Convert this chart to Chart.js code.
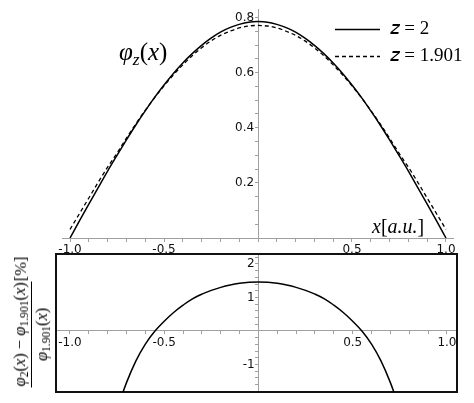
<!DOCTYPE html>
<html>
<head>
<meta charset="utf-8">
<script src="https://cdn.jsdelivr.net/npm/chart.js@4.4.1/dist/chart.umd.min.js"></script>
<style>
html,body{margin:0;padding:0;background:#fff;}
#wrap{position:relative;width:474px;height:403px;overflow:hidden;background:#fff;}
canvas{position:absolute;left:0;top:0;}
.m{position:absolute;font-family:'Liberation Serif','DejaVu Serif',serif;color:#000;white-space:nowrap;line-height:1;}
.m i{font-style:italic;}
.m sub{font-size:70%;vertical-align:baseline;position:relative;top:0.28em;}
.frac{display:inline-block;vertical-align:middle;text-align:center;}
.num{display:block;border-bottom:1px solid #000;padding:0 1px 2px 1px;}
.den{display:block;padding-top:2px;}
</style>
</head>
<body>
<div id="wrap">
<canvas id="topChart" width="474" height="403"></canvas>
<canvas id="botChart" width="474" height="403"></canvas>
<div class="m" style="left:119px;top:39px;font-size:25px;"><i>φ</i><sub><i>z</i></sub>(<i>x</i>)</div>
<div class="m" style="left:372px;top:216px;font-size:20px;"><i>x</i>[<i>a.u.</i>]</div>
<div class="m" style="left:31px;top:322px;font-size:16.5px;transform:translate(-50%,-50%) rotate(-90deg);"><span class="frac"><span class="num"><i>φ</i><sub>2</sub>(<i>x</i>) − <i>φ</i><sub>1.901</sub>(<i>x</i>)</span><span class="den"><i>φ</i><sub>1.901</sub>(<i>x</i>)</span></span><span style="vertical-align:0.55em">[%]</span></div>
</div>
<script>
// ---- data ----
const xValues = [-1.00,-0.95,-0.90,-0.85,-0.80,-0.75,-0.70,-0.65,-0.60,-0.55,-0.50,-0.45,-0.40,-0.35,-0.30,-0.25,-0.20,-0.15,-0.10,-0.05,0.00,
                  0.05,0.10,0.15,0.20,0.25,0.30,0.35,0.40,0.45,0.50,0.55,0.60,0.65,0.70,0.75,0.80,0.85,0.90,0.95,1.00];
const phiZ2 = [0.000,0.062,0.123,0.183,0.243,0.300,0.356,0.410,0.461,0.510,0.555,0.597,0.635,0.669,0.699,0.725,0.747,0.763,0.775,0.783,0.785,
               0.783,0.775,0.763,0.747,0.725,0.699,0.669,0.635,0.597,0.555,0.510,0.461,0.410,0.356,0.300,0.243,0.183,0.123,0.062,0.000];
const phiZ1901 = [0.031,0.088,0.145,0.202,0.257,0.308,0.362,0.414,0.463,0.509,0.552,0.592,0.628,0.661,0.690,0.715,0.735,0.750,0.762,0.769,0.771,
                  0.769,0.762,0.750,0.735,0.715,0.690,0.661,0.628,0.592,0.552,0.509,0.463,0.414,0.362,0.308,0.257,0.202,0.145,0.088,0.031];
const diffX = [-0.75,-0.70,-0.65,-0.60,-0.55,-0.50,-0.45,-0.40,-0.35,-0.30,-0.25,-0.20,-0.15,-0.10,-0.05,0.00,
                0.05,0.10,0.15,0.20,0.25,0.30,0.35,0.40,0.45,0.50,0.55,0.60,0.65,0.70,0.75];
const diffPct = [-2.34,-1.54,-0.89,-0.39,-0.01,0.29,0.55,0.77,0.96,1.10,1.21,1.30,1.37,1.42,1.45,1.46,
                  1.45,1.42,1.37,1.30,1.21,1.10,0.96,0.77,0.55,0.29,-0.01,-0.39,-0.89,-1.54,-2.34];
const seriesLabels = ['𝑧 = 2', '𝑧 = 1.901'];
const xMajorTicks = [-1.0, -0.5, 0.5, 1.0];
const yTopMajorTicks = [0.2, 0.4, 0.6, 0.8];
const yBotMajorTicks = [-1, 1, 2];

// ---- helpers ----
const AXIS_GRAY = '#a0a0a0';
const TICK_FONT = {family: 'DejaVu Sans', size: 12};
const TICK_COLOR = '#111';
const near = (v, list) => list.find(t => Math.abs(t - v) < 1e-6);
const xLabel = v => { const t = near(v, xMajorTicks); return t === undefined ? '' : t.toFixed(1); };

function centerAxis(opts) {
  return Object.assign({
    type: 'linear',
    border: {display: true, color: AXIS_GRAY, width: 1},
    grid: {display: true, drawOnChartArea: false, drawTicks: true, tickLength: 3, color: AXIS_GRAY, tickColor: AXIS_GRAY},
  }, opts);
}

const legendMover = {
  id: 'legendMover',
  afterLayout(chart, args, opts) {
    const lg = chart.legend;
    if (!lg || opts.left === undefined) return;
    const w = lg.width, h = lg.height;
    lg.left = opts.left; lg.top = opts.top;
    lg.right = lg.left + w; lg.bottom = lg.top + h;
  }
};

// ---- top chart ----
new Chart(document.getElementById('topChart'), {
  type: 'line',
  data: {
    datasets: [
      {label: seriesLabels[0], data: xValues.map((x, i) => ({x, y: phiZ2[i]})),
       borderColor: '#000', borderWidth: 1.5, pointRadius: 0, cubicInterpolationMode: 'monotone', fill: false},
      {label: seriesLabels[1], data: xValues.map((x, i) => ({x, y: phiZ1901[i]})),
       borderColor: '#000', borderWidth: 1.3, borderDash: [4, 3], pointRadius: 0, cubicInterpolationMode: 'monotone', fill: false}
    ]
  },
  options: {
    responsive: false, animation: false,
    layout: {padding: {left: 62.5, right: 20.5, top: 8, bottom: 165}},
    plugins: {
      tooltip: {enabled: false},
      legend: {
        display: true, position: 'chartArea', align: 'start',
        labels: {usePointStyle: true, pointStyle: 'line', pointStyleWidth: 45, color: '#000', padding: 8,
                 font: {family: 'Liberation Serif', size: 19},
                 generateLabels(chart) {
                   const items = Chart.defaults.plugins.legend.labels.generateLabels(chart);
                   items.forEach(it => {
                     const ds = chart.data.datasets[it.datasetIndex];
                     it.lineDash = ds.borderDash || [];
                     it.lineWidth = ds.borderWidth;
                     it.strokeStyle = ds.borderColor;
                   });
                   return items;
                 }}
      },
      legendMover: {left: 327, top: 12}
    },
    scales: {
      x: centerAxis({min: -1.04, max: 1.04, position: {y: 0},
        ticks: {stepSize: 0.1, includeBounds: false, autoSkip: false, maxRotation: 0, padding: 2, color: TICK_COLOR, font: TICK_FONT, callback: xLabel}}),
      y: centerAxis({min: 0, max: 0.83, position: {x: 0},
        ticks: {stepSize: 0.05, includeBounds: false, autoSkip: false, padding: 2, color: TICK_COLOR, font: TICK_FONT,
          callback: v => { const t = near(v, yTopMajorTicks); return t === undefined ? '' : t.toFixed(1) + ' '; }}})
    }
  },
  plugins: [legendMover]
});

// ---- bottom chart ----
const frameAxis = (axis, position) => ({
  type: 'linear', axis, position, display: true,
  grid: {display: false, drawTicks: false},
  ticks: {display: false},
  border: {display: true, color: '#111', width: 2}
});

new Chart(document.getElementById('botChart'), {
  type: 'line',
  data: {
    datasets: [
      {label: 'diff', data: diffX.map((x, i) => ({x, y: diffPct[i]})),
       borderColor: '#000', borderWidth: 1.5, pointRadius: 0, tension: 0.4, fill: false}
    ]
  },
  options: {
    responsive: false, animation: false,
    layout: {padding: {left: 56, right: 16.7, top: 253.5, bottom: 11}},
    plugins: {tooltip: {enabled: false}, legend: {display: false}},
    scales: {
      x: centerAxis({min: -1.074, max: 1.055, position: {y: 0},
        ticks: {stepSize: 0.1, includeBounds: false, autoSkip: false, maxRotation: 0, padding: 2, color: TICK_COLOR, font: TICK_FONT, callback: xLabel}}),
      y: centerAxis({min: -1.82, max: 2.31, position: {x: 0},
        ticks: {stepSize: 0.2, includeBounds: false, autoSkip: false, padding: 2, color: TICK_COLOR, font: TICK_FONT,
          callback: v => { const t = near(v, yBotMajorTicks); return t === undefined ? '' : String(t) + ' '; }}}),
      frameTop: frameAxis('x', 'top'),
      frameBottom: frameAxis('x', 'bottom'),
      frameLeft: frameAxis('y', 'left'),
      frameRight: frameAxis('y', 'right')
    }
  }
});
</script>
</body>
</html>
